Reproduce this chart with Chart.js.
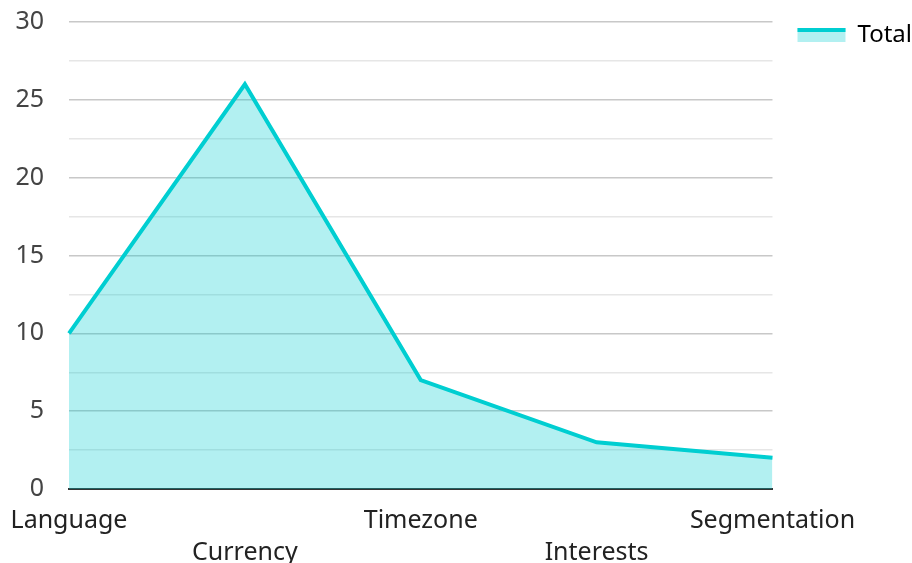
<!DOCTYPE html>
<html>
<head>
<meta charset="utf-8">
<script src="https://cdn.jsdelivr.net/npm/chart.js@4"></script>
<style>
html,body{margin:0;padding:0;background:#fff;}
#wrap{width:912px;height:563px;}
</style>
</head>
<body>
<div id="wrap"><canvas id="c" width="912" height="563"></canvas></div>
<script>
const categories = ['Language', 'Currency', 'Timezone', 'Interests', 'Segmentation'];
const totalValues = [10, 26, 7, 3, 2];
const yTicks = [0, 5, 10, 15, 20, 25, 30];

const LINE = 'rgb(0,206,209)';
const FILL = 'rgba(0,206,209,0.3)';
const FONT = 'Noto Sans';
const FS = 25;
const YFS = 25;
const LFS = 24;

// stagger labels into two rows
const labels = categories.map((c, i) => i % 2 === 0 ? [c, ''] : ['', c]);

const legendShiftPlugin = {
  id: 'legendShift',
  afterLayout(chart) {
    const lg = chart.legend;
    if (!lg) return;
    lg.left += 13; lg.right += 13;
  },
  afterDraw(chart) {
    const lg = chart.legend;
    if (!lg || !lg.legendHitBoxes) return;
    const ctx = chart.ctx;
    lg.legendHitBoxes.forEach(b => {
      ctx.save();
      ctx.fillStyle = LINE;
      const top = b.top + (b.height - 14) / 2;
      ctx.fillRect(b.left, top, 48, 4);
      ctx.restore();
    });
  }
};

new Chart(document.getElementById('c'), {
  type: 'line',
  data: {
    labels: labels,
    datasets: [{
      label: 'Total',
      data: totalValues,
      borderColor: LINE,
      backgroundColor: FILL,
      borderWidth: 4,
      fill: 'origin',
      pointRadius: 0,
      tension: 0
    }]
  },
  options: {
    responsive: false,
    animation: false,
    layout: { padding: { top: 11, right: 3, left: 11, bottom: 0 } },
    plugins: {
      legend: {
        position: 'right',
        align: 'start',
        labels: {
          font: { family: FONT, size: LFS },
          color: '#222',
          boxWidth: 48,
          boxHeight: 14,
          padding: 12,
          generateLabels(chart) {
            return [{
              text: 'Total',
              fillStyle: FILL,
              strokeStyle: 'rgba(0,0,0,0)',
              lineWidth: 0,
              datasetIndex: 0
            }];
          }
        }
      },
      tooltip: { enabled: false }
    },
    scales: {
      x: {
        offset: false,
        grid: { display: false, drawTicks: false },
        border: { display: true, color: '#333', width: 2 },
        ticks: {
          font: { family: FONT, size: FS, lineHeight: 1.28 },
          color: '#222',
          maxRotation: 0,
          autoSkip: false,
          padding: 16
        },
        afterFit(scale) {
          scale.height = 74;
          scale.paddingLeft = 0;
          scale.paddingRight = 0;
        }
      },
      y: {
        min: 0,
        max: 30,
        grid: {
          drawTicks: false,
          color: ctx => (ctx.tick && ctx.tick.value % 5 === 0) ? '#c8c8c8' : '#e6e6e6',
          lineWidth: 1.5
        },
        border: { display: false },
        ticks: {
          stepSize: 2.5,
          font: { family: FONT, size: YFS },
          color: '#444',
          padding: 25,
          callback: v => yTicks.includes(v) ? String(v) : ''
        },
        afterFit(scale) {
          scale.width = 58;
          scale.paddingTop = 22;
          scale.paddingBottom = 0;
        }
      }
    }
  },
  plugins: [legendShiftPlugin]
});
</script>
</body>
</html>
